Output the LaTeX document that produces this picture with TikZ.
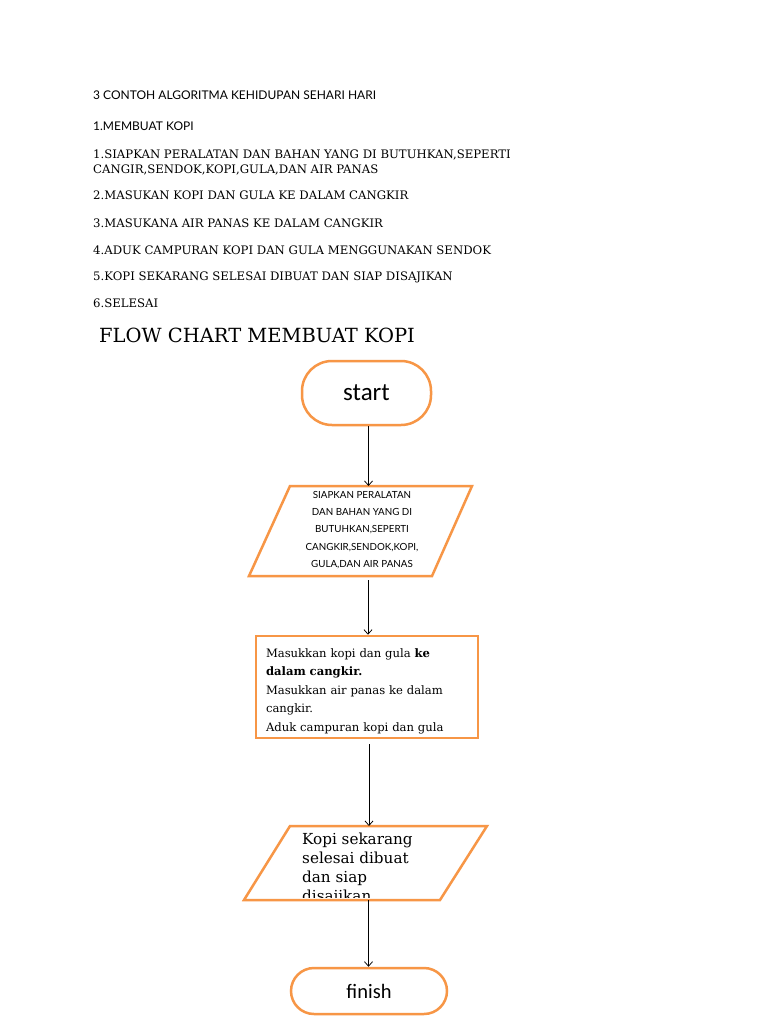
\documentclass[tikz,border=0pt]{standalone}
\usepackage{fontspec}
\setmainfont{DejaVu Serif}
\newfontfamily\latof{Lato}
\newfontfamily\calf{Carlito}
\usetikzlibrary{arrows.meta}
\definecolor{orng}{RGB}{247,150,70}
\begin{document}
\begin{tikzpicture}[x=1pt,y=-1pt,
 lst/.style={anchor=base west,inner sep=0pt,font=\fontsize{11.7}{14}\selectfont},
 lstsans/.style={lst,font=\latof\fontsize{12}{14}\selectfont},
 shp/.style={draw=orng,line width=2.5pt},
 arr/.style={-{Straight Barb[length=4.5pt,width=8pt]},line width=0.75pt},
]
\useasboundingbox[fill=white] (0,0) rectangle (768,1024);

% text list
\node[lstsans] (t0) at (93,100) {3 CONTOH ALGORITMA KEHIDUPAN SEHARI HARI};
\node[lstsans] (t1) at (93,131) {1.MEMBUAT KOPI};
\node[lst] (t2) at (93,159) {1.SIAPKAN PERALATAN DAN BAHAN YANG DI BUTUHKAN,SEPERTI};
\node[lst] (t2b) at (93,174) {CANGIR,SENDOK,KOPI,GULA,DAN AIR PANAS};
\node[lst] (t3) at (93,200) {2.MASUKAN KOPI DAN GULA KE DALAM CANGKIR};
\node[lst] (t4) at (93,227) {3.MASUKANA AIR PANAS KE DALAM CANGKIR};
\node[lst] (t5) at (93,254) {4.ADUK CAMPURAN KOPI DAN GULA MENGGUNAKAN SENDOK};
\node[lst] (t6) at (93,280) {5.KOPI SEKARANG SELESAI DIBUAT DAN SIAP DISAJIKAN};
\node[lst] (t7) at (93,307) {6.SELESAI};
\node[lst,font=\fontsize{19.5}{23}\selectfont] (title) at (99,342) {FLOW CHART MEMBUAT KOPI};

% start
\node[shp,rounded corners=30pt,minimum width=129pt,minimum height=64pt,
  font=\calf\fontsize{25}{30}\selectfont] (start) at (366.5,393) {start};

% parallelogram 1
\draw[shp,line join=miter] (290,486) -- (472,486) -- (432,576) -- (249,576) -- cycle;
\node[align=center,font=\latof\fontsize{9.8}{17.2}\selectfont] (p1) at (362,530)
  {SIAPKAN PERALATAN\\DAN BAHAN YANG DI\\BUTUHKAN,SEPERTI\\CANGKIR,SENDOK,KOPI,\\GULA,DAN AIR PANAS};
\coordinate (p1t) at (368.5,486);
\coordinate (p1b) at (368,580);

% rectangle
\node[shp,minimum width=222pt,minimum height=102pt,text width=202pt,inner xsep=10pt,
  align=left,font=\fontsize{11.6}{18.6}\selectfont] (box) at (367,687)
  {\rule{0pt}{17pt}Masukkan kopi dan gula \textbf{ke}\\\textbf{dalam cangkir.}\\Masukkan air panas ke dalam\\cangkir.\\Aduk campuran kopi dan gula};

% parallelogram 2
\draw[shp,line join=miter] (290,826) -- (487,826) -- (440,900) -- (244,900) -- cycle;
\begin{scope}
\clip (240,828) rectangle (490,897);
\node[anchor=north west,inner sep=0pt,align=left,font=\fontsize{15.2}{19}\selectfont] (p2) at (302,833)
  {Kopi sekarang\\selesai dibuat\\dan siap\\disajikan};
\end{scope}
\coordinate (p2t) at (369,826);
\coordinate (p2b) at (368.5,900);

% finish
\node[shp,rounded corners=23pt,minimum width=156pt,minimum height=46pt,
  font=\calf\fontsize{20.5}{24}\selectfont] (finish) at (369,991) {finish};

% connectors
\draw[arr] (start.south -| p1t) -- (p1t);
\draw[arr] (p1b) -- (box.north -| p1b);
\draw[arr] ([yshift=-5pt]box.south -| p2t) -- (p2t);
\draw[arr] (p2b) -- (finish.north -| p2b);
\end{tikzpicture}
\end{document}
